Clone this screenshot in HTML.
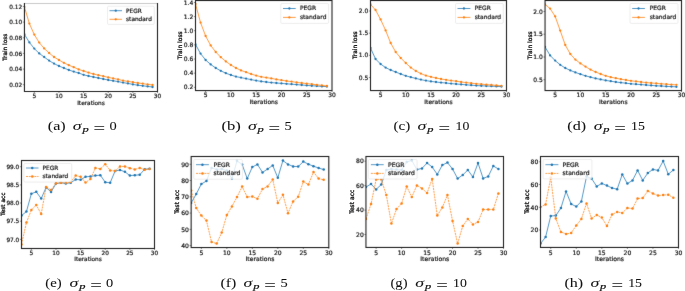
<!DOCTYPE html>
<html lang="en">
<head>
<meta charset="utf-8">
<title>Train loss and test accuracy: PEGR vs standard</title>
<style>
html,body{margin:0;padding:0;background:#fff;}
body{width:685px;height:291px;overflow:hidden;}
svg{display:block;}
.pl text{stroke:#111;stroke-width:0.2px;}
.yl text{stroke-width:0.3px;}
.cap text{stroke:#111;stroke-width:0.05px;}
</style>
</head>
<body>
<svg width="685" height="291" viewBox="0 0 685 291">
<filter id="soft" x="0" y="0" width="685" height="291" filterUnits="userSpaceOnUse" color-interpolation-filters="sRGB"><feConvolveMatrix order="3" kernelMatrix="0.01 0.055 0.01 0.055 0.74 0.055 0.01 0.055 0.01" divisor="1" edgeMode="duplicate" preserveAlpha="true"/></filter>
<g filter="url(#soft)">
<rect width="685" height="291" fill="#fff"/>
<g font-family="'DejaVu Sans', 'Liberation Sans', sans-serif" font-size="5.8" fill="#111" class="pl">
<g font-size="5.8">
<clipPath id="c0"><rect x="24.45" y="3.5" width="133.05" height="88"/></clipPath>
<g clip-path="url(#c0)">
<polyline points="24.45,34.4 29.38,42.4 34.31,48.6 39.23,53.4 44.16,57 49.09,60.6 54.02,63.6 58.94,66 63.87,68 68.8,70 73.73,71.6 78.66,73 83.58,74.8 88.51,76 93.44,77 98.37,78 103.29,79 108.22,80 113.15,80.8 118.08,81.6 123.01,82.6 127.93,83.4 132.86,84.4 137.79,85.2 142.72,85.8 147.64,86.4 152.57,87" fill="none" stroke="#1f77b4" stroke-width="0.78" stroke-linejoin="round"/>
<circle cx="24.45" cy="34.4" r="1.15" fill="#1f77b4"/>
<circle cx="29.38" cy="42.4" r="1.15" fill="#1f77b4"/>
<circle cx="34.31" cy="48.6" r="1.15" fill="#1f77b4"/>
<circle cx="39.23" cy="53.4" r="1.15" fill="#1f77b4"/>
<circle cx="44.16" cy="57" r="1.15" fill="#1f77b4"/>
<circle cx="49.09" cy="60.6" r="1.15" fill="#1f77b4"/>
<circle cx="54.02" cy="63.6" r="1.15" fill="#1f77b4"/>
<circle cx="58.94" cy="66" r="1.15" fill="#1f77b4"/>
<circle cx="63.87" cy="68" r="1.15" fill="#1f77b4"/>
<circle cx="68.8" cy="70" r="1.15" fill="#1f77b4"/>
<circle cx="73.73" cy="71.6" r="1.15" fill="#1f77b4"/>
<circle cx="78.66" cy="73" r="1.15" fill="#1f77b4"/>
<circle cx="83.58" cy="74.8" r="1.15" fill="#1f77b4"/>
<circle cx="88.51" cy="76" r="1.15" fill="#1f77b4"/>
<circle cx="93.44" cy="77" r="1.15" fill="#1f77b4"/>
<circle cx="98.37" cy="78" r="1.15" fill="#1f77b4"/>
<circle cx="103.29" cy="79" r="1.15" fill="#1f77b4"/>
<circle cx="108.22" cy="80" r="1.15" fill="#1f77b4"/>
<circle cx="113.15" cy="80.8" r="1.15" fill="#1f77b4"/>
<circle cx="118.08" cy="81.6" r="1.15" fill="#1f77b4"/>
<circle cx="123.01" cy="82.6" r="1.15" fill="#1f77b4"/>
<circle cx="127.93" cy="83.4" r="1.15" fill="#1f77b4"/>
<circle cx="132.86" cy="84.4" r="1.15" fill="#1f77b4"/>
<circle cx="137.79" cy="85.2" r="1.15" fill="#1f77b4"/>
<circle cx="142.72" cy="85.8" r="1.15" fill="#1f77b4"/>
<circle cx="147.64" cy="86.4" r="1.15" fill="#1f77b4"/>
<circle cx="152.57" cy="87" r="1.15" fill="#1f77b4"/>
<polyline points="24.45,7 29.38,23.6 34.31,34.6 39.23,42.6 44.16,48.4 49.09,53 54.02,57 58.94,60 63.87,62.8 68.8,65.2 73.73,67.2 78.66,69.4 83.58,71 88.51,72.6 93.44,74 98.37,75.2 103.29,76.2 108.22,77.4 113.15,78.4 118.08,79.4 123.01,80.6 127.93,81.4 132.86,82.2 137.79,83 142.72,83.6 147.64,84.4 152.57,85" fill="none" stroke="#ff7f0e" stroke-width="0.78" stroke-linejoin="round"/>
<circle cx="24.45" cy="7" r="1.15" fill="#ff7f0e"/>
<circle cx="29.38" cy="23.6" r="1.15" fill="#ff7f0e"/>
<circle cx="34.31" cy="34.6" r="1.15" fill="#ff7f0e"/>
<circle cx="39.23" cy="42.6" r="1.15" fill="#ff7f0e"/>
<circle cx="44.16" cy="48.4" r="1.15" fill="#ff7f0e"/>
<circle cx="49.09" cy="53" r="1.15" fill="#ff7f0e"/>
<circle cx="54.02" cy="57" r="1.15" fill="#ff7f0e"/>
<circle cx="58.94" cy="60" r="1.15" fill="#ff7f0e"/>
<circle cx="63.87" cy="62.8" r="1.15" fill="#ff7f0e"/>
<circle cx="68.8" cy="65.2" r="1.15" fill="#ff7f0e"/>
<circle cx="73.73" cy="67.2" r="1.15" fill="#ff7f0e"/>
<circle cx="78.66" cy="69.4" r="1.15" fill="#ff7f0e"/>
<circle cx="83.58" cy="71" r="1.15" fill="#ff7f0e"/>
<circle cx="88.51" cy="72.6" r="1.15" fill="#ff7f0e"/>
<circle cx="93.44" cy="74" r="1.15" fill="#ff7f0e"/>
<circle cx="98.37" cy="75.2" r="1.15" fill="#ff7f0e"/>
<circle cx="103.29" cy="76.2" r="1.15" fill="#ff7f0e"/>
<circle cx="108.22" cy="77.4" r="1.15" fill="#ff7f0e"/>
<circle cx="113.15" cy="78.4" r="1.15" fill="#ff7f0e"/>
<circle cx="118.08" cy="79.4" r="1.15" fill="#ff7f0e"/>
<circle cx="123.01" cy="80.6" r="1.15" fill="#ff7f0e"/>
<circle cx="127.93" cy="81.4" r="1.15" fill="#ff7f0e"/>
<circle cx="132.86" cy="82.2" r="1.15" fill="#ff7f0e"/>
<circle cx="137.79" cy="83" r="1.15" fill="#ff7f0e"/>
<circle cx="142.72" cy="83.6" r="1.15" fill="#ff7f0e"/>
<circle cx="147.64" cy="84.4" r="1.15" fill="#ff7f0e"/>
<circle cx="152.57" cy="85" r="1.15" fill="#ff7f0e"/>
</g>
<rect x="107.5" y="6.2" width="46.8" height="18.2" rx="1.2" fill="#fff" fill-opacity="0.8" stroke="#ccc" stroke-opacity="0.7" stroke-width="0.5"/>
<line x1="109.5" y1="10.7" x2="122" y2="10.7" stroke="#1f77b4" stroke-width="0.78"/>
<circle cx="115.75" cy="10.7" r="1.15" fill="#1f77b4"/>
<text x="126.1" y="12.5">PEGR</text>
<line x1="109.5" y1="19.3" x2="122" y2="19.3" stroke="#ff7f0e" stroke-width="0.78"/>
<circle cx="115.75" cy="19.3" r="1.15" fill="#ff7f0e"/>
<text x="126.1" y="21.1">standard</text>
<line x1="24.45" y1="3.5" x2="157.5" y2="3.5" stroke="#c4c4c4" stroke-width="0.9"/>
<polyline points="24.45,3.1 24.45,91.5 157.5,91.5 157.5,3.1" fill="none" stroke="#222" stroke-width="1.1"/>
<line x1="34.31" y1="91.5" x2="34.31" y2="92.9" stroke="#222" stroke-width="0.6"/>
<text x="34.31" y="97.8" text-anchor="middle">5</text>
<line x1="58.94" y1="91.5" x2="58.94" y2="92.9" stroke="#222" stroke-width="0.6"/>
<text x="58.94" y="97.8" text-anchor="middle">10</text>
<line x1="83.58" y1="91.5" x2="83.58" y2="92.9" stroke="#222" stroke-width="0.6"/>
<text x="83.58" y="97.8" text-anchor="middle">15</text>
<line x1="108.22" y1="91.5" x2="108.22" y2="92.9" stroke="#222" stroke-width="0.6"/>
<text x="108.22" y="97.8" text-anchor="middle">20</text>
<line x1="132.86" y1="91.5" x2="132.86" y2="92.9" stroke="#222" stroke-width="0.6"/>
<text x="132.86" y="97.8" text-anchor="middle">25</text>
<line x1="157.5" y1="91.5" x2="157.5" y2="92.9" stroke="#222" stroke-width="0.6"/>
<text x="157.5" y="97.8" text-anchor="middle">30</text>
<line x1="22.85" y1="6.5" x2="24.45" y2="6.5" stroke="#222" stroke-width="0.5"/>
<text x="22.25" y="8.62" text-anchor="end">0.12</text>
<line x1="22.85" y1="22.1" x2="24.45" y2="22.1" stroke="#222" stroke-width="0.5"/>
<text x="22.25" y="24.22" text-anchor="end">0.10</text>
<line x1="22.85" y1="37.8" x2="24.45" y2="37.8" stroke="#222" stroke-width="0.5"/>
<text x="22.25" y="39.92" text-anchor="end">0.08</text>
<line x1="22.85" y1="53.4" x2="24.45" y2="53.4" stroke="#222" stroke-width="0.5"/>
<text x="22.25" y="55.52" text-anchor="end">0.06</text>
<line x1="22.85" y1="69.1" x2="24.45" y2="69.1" stroke="#222" stroke-width="0.5"/>
<text x="22.25" y="71.22" text-anchor="end">0.04</text>
<line x1="22.85" y1="84.7" x2="24.45" y2="84.7" stroke="#222" stroke-width="0.5"/>
<text x="22.25" y="86.82" text-anchor="end">0.02</text>
<text x="90.97" y="104.5" text-anchor="middle">Iterations</text>
</g>
<g font-size="5.99">
<clipPath id="c1"><rect x="195.5" y="0.5" width="136.5" height="90.05"/></clipPath>
<g clip-path="url(#c1)">
<polyline points="195.5,44.4 200.56,53.6 205.61,60 210.67,64.4 215.72,68 220.78,70.8 225.83,73.2 230.89,75 235.94,76.6 241,77.6 246.06,78.6 251.11,79.6 256.17,80.6 261.22,81.4 266.28,82 271.33,82.6 276.39,83 281.44,83.4 286.5,83.8 291.56,84.2 296.61,84.6 301.67,85 306.72,85.4 311.78,85.8 316.83,86 321.89,86.4 326.94,86.6" fill="none" stroke="#1f77b4" stroke-width="0.78" stroke-linejoin="round"/>
<circle cx="195.5" cy="44.4" r="1.15" fill="#1f77b4"/>
<circle cx="200.56" cy="53.6" r="1.15" fill="#1f77b4"/>
<circle cx="205.61" cy="60" r="1.15" fill="#1f77b4"/>
<circle cx="210.67" cy="64.4" r="1.15" fill="#1f77b4"/>
<circle cx="215.72" cy="68" r="1.15" fill="#1f77b4"/>
<circle cx="220.78" cy="70.8" r="1.15" fill="#1f77b4"/>
<circle cx="225.83" cy="73.2" r="1.15" fill="#1f77b4"/>
<circle cx="230.89" cy="75" r="1.15" fill="#1f77b4"/>
<circle cx="235.94" cy="76.6" r="1.15" fill="#1f77b4"/>
<circle cx="241" cy="77.6" r="1.15" fill="#1f77b4"/>
<circle cx="246.06" cy="78.6" r="1.15" fill="#1f77b4"/>
<circle cx="251.11" cy="79.6" r="1.15" fill="#1f77b4"/>
<circle cx="256.17" cy="80.6" r="1.15" fill="#1f77b4"/>
<circle cx="261.22" cy="81.4" r="1.15" fill="#1f77b4"/>
<circle cx="266.28" cy="82" r="1.15" fill="#1f77b4"/>
<circle cx="271.33" cy="82.6" r="1.15" fill="#1f77b4"/>
<circle cx="276.39" cy="83" r="1.15" fill="#1f77b4"/>
<circle cx="281.44" cy="83.4" r="1.15" fill="#1f77b4"/>
<circle cx="286.5" cy="83.8" r="1.15" fill="#1f77b4"/>
<circle cx="291.56" cy="84.2" r="1.15" fill="#1f77b4"/>
<circle cx="296.61" cy="84.6" r="1.15" fill="#1f77b4"/>
<circle cx="301.67" cy="85" r="1.15" fill="#1f77b4"/>
<circle cx="306.72" cy="85.4" r="1.15" fill="#1f77b4"/>
<circle cx="311.78" cy="85.8" r="1.15" fill="#1f77b4"/>
<circle cx="316.83" cy="86" r="1.15" fill="#1f77b4"/>
<circle cx="321.89" cy="86.4" r="1.15" fill="#1f77b4"/>
<circle cx="326.94" cy="86.6" r="1.15" fill="#1f77b4"/>
<polyline points="195.5,4 200.56,22.6 205.61,36 210.67,45.4 215.72,52 220.78,57.2 225.83,61.4 230.89,65 235.94,68 241,70.4 246.06,72.2 251.11,74 256.17,75.6 261.22,76.8 266.28,77.6 271.33,78.4 276.39,79.4 281.44,80.2 286.5,81 291.56,81.6 296.61,82.4 301.67,83 306.72,83.6 311.78,84.2 316.83,84.8 321.89,85.4 326.94,86" fill="none" stroke="#ff7f0e" stroke-width="0.78" stroke-linejoin="round"/>
<circle cx="195.5" cy="4" r="1.15" fill="#ff7f0e"/>
<circle cx="200.56" cy="22.6" r="1.15" fill="#ff7f0e"/>
<circle cx="205.61" cy="36" r="1.15" fill="#ff7f0e"/>
<circle cx="210.67" cy="45.4" r="1.15" fill="#ff7f0e"/>
<circle cx="215.72" cy="52" r="1.15" fill="#ff7f0e"/>
<circle cx="220.78" cy="57.2" r="1.15" fill="#ff7f0e"/>
<circle cx="225.83" cy="61.4" r="1.15" fill="#ff7f0e"/>
<circle cx="230.89" cy="65" r="1.15" fill="#ff7f0e"/>
<circle cx="235.94" cy="68" r="1.15" fill="#ff7f0e"/>
<circle cx="241" cy="70.4" r="1.15" fill="#ff7f0e"/>
<circle cx="246.06" cy="72.2" r="1.15" fill="#ff7f0e"/>
<circle cx="251.11" cy="74" r="1.15" fill="#ff7f0e"/>
<circle cx="256.17" cy="75.6" r="1.15" fill="#ff7f0e"/>
<circle cx="261.22" cy="76.8" r="1.15" fill="#ff7f0e"/>
<circle cx="266.28" cy="77.6" r="1.15" fill="#ff7f0e"/>
<circle cx="271.33" cy="78.4" r="1.15" fill="#ff7f0e"/>
<circle cx="276.39" cy="79.4" r="1.15" fill="#ff7f0e"/>
<circle cx="281.44" cy="80.2" r="1.15" fill="#ff7f0e"/>
<circle cx="286.5" cy="81" r="1.15" fill="#ff7f0e"/>
<circle cx="291.56" cy="81.6" r="1.15" fill="#ff7f0e"/>
<circle cx="296.61" cy="82.4" r="1.15" fill="#ff7f0e"/>
<circle cx="301.67" cy="83" r="1.15" fill="#ff7f0e"/>
<circle cx="306.72" cy="83.6" r="1.15" fill="#ff7f0e"/>
<circle cx="311.78" cy="84.2" r="1.15" fill="#ff7f0e"/>
<circle cx="316.83" cy="84.8" r="1.15" fill="#ff7f0e"/>
<circle cx="321.89" cy="85.4" r="1.15" fill="#ff7f0e"/>
<circle cx="326.94" cy="86" r="1.15" fill="#ff7f0e"/>
</g>
<rect x="280.8" y="3.5" width="47.8" height="19.9" rx="1.2" fill="#fff" fill-opacity="0.8" stroke="#ccc" stroke-opacity="0.7" stroke-width="0.5"/>
<line x1="283" y1="8.5" x2="295.7" y2="8.5" stroke="#1f77b4" stroke-width="0.78"/>
<circle cx="289.35" cy="8.5" r="1.15" fill="#1f77b4"/>
<text x="299.9" y="10.3">PEGR</text>
<line x1="283" y1="17.4" x2="295.7" y2="17.4" stroke="#ff7f0e" stroke-width="0.78"/>
<circle cx="289.35" cy="17.4" r="1.15" fill="#ff7f0e"/>
<text x="299.9" y="19.2">standard</text>
<rect x="195.5" y="0.5" width="136.5" height="90.05" fill="none" stroke="#222" stroke-width="1.1"/>
<line x1="205.61" y1="90.55" x2="205.61" y2="91.95" stroke="#222" stroke-width="0.6"/>
<text x="205.61" y="97.3" text-anchor="middle">5</text>
<line x1="230.89" y1="90.55" x2="230.89" y2="91.95" stroke="#222" stroke-width="0.6"/>
<text x="230.89" y="97.3" text-anchor="middle">10</text>
<line x1="256.17" y1="90.55" x2="256.17" y2="91.95" stroke="#222" stroke-width="0.6"/>
<text x="256.17" y="97.3" text-anchor="middle">15</text>
<line x1="281.44" y1="90.55" x2="281.44" y2="91.95" stroke="#222" stroke-width="0.6"/>
<text x="281.44" y="97.3" text-anchor="middle">20</text>
<line x1="306.72" y1="90.55" x2="306.72" y2="91.95" stroke="#222" stroke-width="0.6"/>
<text x="306.72" y="97.3" text-anchor="middle">25</text>
<line x1="332" y1="90.55" x2="332" y2="91.95" stroke="#222" stroke-width="0.6"/>
<text x="332" y="97.3" text-anchor="middle">30</text>
<line x1="193.9" y1="2.5" x2="195.5" y2="2.5" stroke="#222" stroke-width="0.5"/>
<text x="193.3" y="4.69" text-anchor="end">1.4</text>
<line x1="193.9" y1="16.6" x2="195.5" y2="16.6" stroke="#222" stroke-width="0.5"/>
<text x="193.3" y="18.79" text-anchor="end">1.2</text>
<line x1="193.9" y1="30.7" x2="195.5" y2="30.7" stroke="#222" stroke-width="0.5"/>
<text x="193.3" y="32.89" text-anchor="end">1.0</text>
<line x1="193.9" y1="44.85" x2="195.5" y2="44.85" stroke="#222" stroke-width="0.5"/>
<text x="193.3" y="47.04" text-anchor="end">0.8</text>
<line x1="193.9" y1="59" x2="195.5" y2="59" stroke="#222" stroke-width="0.5"/>
<text x="193.3" y="61.19" text-anchor="end">0.6</text>
<line x1="193.9" y1="73.15" x2="195.5" y2="73.15" stroke="#222" stroke-width="0.5"/>
<text x="193.3" y="75.34" text-anchor="end">0.4</text>
<line x1="193.9" y1="87.3" x2="195.5" y2="87.3" stroke="#222" stroke-width="0.5"/>
<text x="193.3" y="89.49" text-anchor="end">0.2</text>
<text x="263.75" y="104" text-anchor="middle">Iterations</text>
</g>
<g font-size="5.96">
<clipPath id="c2"><rect x="370.5" y="0.5" width="136" height="90.05"/></clipPath>
<g clip-path="url(#c2)">
<polyline points="370.5,48 375.54,59 380.57,64 385.61,67.6 390.65,70 395.69,72 400.72,74 405.76,75.8 410.8,77.2 415.83,78.4 420.87,79.6 425.91,80.6 430.94,81.4 435.98,82 441.02,82.6 446.06,83 451.09,83.6 456.13,84 461.17,84.4 466.2,84.8 471.24,85.2 476.28,85.6 481.31,85.8 486.35,86 491.39,86.2 496.43,86.4 501.46,86.6" fill="none" stroke="#1f77b4" stroke-width="0.78" stroke-linejoin="round"/>
<circle cx="370.5" cy="48" r="1.15" fill="#1f77b4"/>
<circle cx="375.54" cy="59" r="1.15" fill="#1f77b4"/>
<circle cx="380.57" cy="64" r="1.15" fill="#1f77b4"/>
<circle cx="385.61" cy="67.6" r="1.15" fill="#1f77b4"/>
<circle cx="390.65" cy="70" r="1.15" fill="#1f77b4"/>
<circle cx="395.69" cy="72" r="1.15" fill="#1f77b4"/>
<circle cx="400.72" cy="74" r="1.15" fill="#1f77b4"/>
<circle cx="405.76" cy="75.8" r="1.15" fill="#1f77b4"/>
<circle cx="410.8" cy="77.2" r="1.15" fill="#1f77b4"/>
<circle cx="415.83" cy="78.4" r="1.15" fill="#1f77b4"/>
<circle cx="420.87" cy="79.6" r="1.15" fill="#1f77b4"/>
<circle cx="425.91" cy="80.6" r="1.15" fill="#1f77b4"/>
<circle cx="430.94" cy="81.4" r="1.15" fill="#1f77b4"/>
<circle cx="435.98" cy="82" r="1.15" fill="#1f77b4"/>
<circle cx="441.02" cy="82.6" r="1.15" fill="#1f77b4"/>
<circle cx="446.06" cy="83" r="1.15" fill="#1f77b4"/>
<circle cx="451.09" cy="83.6" r="1.15" fill="#1f77b4"/>
<circle cx="456.13" cy="84" r="1.15" fill="#1f77b4"/>
<circle cx="461.17" cy="84.4" r="1.15" fill="#1f77b4"/>
<circle cx="466.2" cy="84.8" r="1.15" fill="#1f77b4"/>
<circle cx="471.24" cy="85.2" r="1.15" fill="#1f77b4"/>
<circle cx="476.28" cy="85.6" r="1.15" fill="#1f77b4"/>
<circle cx="481.31" cy="85.8" r="1.15" fill="#1f77b4"/>
<circle cx="486.35" cy="86" r="1.15" fill="#1f77b4"/>
<circle cx="491.39" cy="86.2" r="1.15" fill="#1f77b4"/>
<circle cx="496.43" cy="86.4" r="1.15" fill="#1f77b4"/>
<circle cx="501.46" cy="86.6" r="1.15" fill="#1f77b4"/>
<polyline points="370.5,4.4 375.54,10 380.57,19.4 385.61,30.4 390.65,43 395.69,52 400.72,58 405.76,63 410.8,67.6 415.83,71 420.87,73.6 425.91,75.6 430.94,76.8 435.98,78 441.02,79 446.06,79.8 451.09,80.6 456.13,81.2 461.17,82 466.2,82.6 471.24,83.2 476.28,83.8 481.31,84.2 486.35,84.6 491.39,85 496.43,85.4 501.46,85.8" fill="none" stroke="#ff7f0e" stroke-width="0.78" stroke-linejoin="round"/>
<circle cx="370.5" cy="4.4" r="1.15" fill="#ff7f0e"/>
<circle cx="375.54" cy="10" r="1.15" fill="#ff7f0e"/>
<circle cx="380.57" cy="19.4" r="1.15" fill="#ff7f0e"/>
<circle cx="385.61" cy="30.4" r="1.15" fill="#ff7f0e"/>
<circle cx="390.65" cy="43" r="1.15" fill="#ff7f0e"/>
<circle cx="395.69" cy="52" r="1.15" fill="#ff7f0e"/>
<circle cx="400.72" cy="58" r="1.15" fill="#ff7f0e"/>
<circle cx="405.76" cy="63" r="1.15" fill="#ff7f0e"/>
<circle cx="410.8" cy="67.6" r="1.15" fill="#ff7f0e"/>
<circle cx="415.83" cy="71" r="1.15" fill="#ff7f0e"/>
<circle cx="420.87" cy="73.6" r="1.15" fill="#ff7f0e"/>
<circle cx="425.91" cy="75.6" r="1.15" fill="#ff7f0e"/>
<circle cx="430.94" cy="76.8" r="1.15" fill="#ff7f0e"/>
<circle cx="435.98" cy="78" r="1.15" fill="#ff7f0e"/>
<circle cx="441.02" cy="79" r="1.15" fill="#ff7f0e"/>
<circle cx="446.06" cy="79.8" r="1.15" fill="#ff7f0e"/>
<circle cx="451.09" cy="80.6" r="1.15" fill="#ff7f0e"/>
<circle cx="456.13" cy="81.2" r="1.15" fill="#ff7f0e"/>
<circle cx="461.17" cy="82" r="1.15" fill="#ff7f0e"/>
<circle cx="466.2" cy="82.6" r="1.15" fill="#ff7f0e"/>
<circle cx="471.24" cy="83.2" r="1.15" fill="#ff7f0e"/>
<circle cx="476.28" cy="83.8" r="1.15" fill="#ff7f0e"/>
<circle cx="481.31" cy="84.2" r="1.15" fill="#ff7f0e"/>
<circle cx="486.35" cy="84.6" r="1.15" fill="#ff7f0e"/>
<circle cx="491.39" cy="85" r="1.15" fill="#ff7f0e"/>
<circle cx="496.43" cy="85.4" r="1.15" fill="#ff7f0e"/>
<circle cx="501.46" cy="85.8" r="1.15" fill="#ff7f0e"/>
</g>
<rect x="455.5" y="3.5" width="47.8" height="19.9" rx="1.2" fill="#fff" fill-opacity="0.8" stroke="#ccc" stroke-opacity="0.7" stroke-width="0.5"/>
<line x1="457.5" y1="8.5" x2="470.4" y2="8.5" stroke="#1f77b4" stroke-width="0.78"/>
<circle cx="463.95" cy="8.5" r="1.15" fill="#1f77b4"/>
<text x="474.7" y="10.3">PEGR</text>
<line x1="457.5" y1="17.4" x2="470.4" y2="17.4" stroke="#ff7f0e" stroke-width="0.78"/>
<circle cx="463.95" cy="17.4" r="1.15" fill="#ff7f0e"/>
<text x="474.7" y="19.2">standard</text>
<rect x="370.5" y="0.5" width="136" height="90.05" fill="none" stroke="#222" stroke-width="1.1"/>
<line x1="380.57" y1="90.55" x2="380.57" y2="91.95" stroke="#222" stroke-width="0.6"/>
<text x="380.57" y="97.3" text-anchor="middle">5</text>
<line x1="405.76" y1="90.55" x2="405.76" y2="91.95" stroke="#222" stroke-width="0.6"/>
<text x="405.76" y="97.3" text-anchor="middle">10</text>
<line x1="430.94" y1="90.55" x2="430.94" y2="91.95" stroke="#222" stroke-width="0.6"/>
<text x="430.94" y="97.3" text-anchor="middle">15</text>
<line x1="456.13" y1="90.55" x2="456.13" y2="91.95" stroke="#222" stroke-width="0.6"/>
<text x="456.13" y="97.3" text-anchor="middle">20</text>
<line x1="481.31" y1="90.55" x2="481.31" y2="91.95" stroke="#222" stroke-width="0.6"/>
<text x="481.31" y="97.3" text-anchor="middle">25</text>
<line x1="506.5" y1="90.55" x2="506.5" y2="91.95" stroke="#222" stroke-width="0.6"/>
<text x="506.5" y="97.3" text-anchor="middle">30</text>
<line x1="368.9" y1="11" x2="370.5" y2="11" stroke="#222" stroke-width="0.5"/>
<text x="368.3" y="13.18" text-anchor="end">2.0</text>
<line x1="368.9" y1="33.2" x2="370.5" y2="33.2" stroke="#222" stroke-width="0.5"/>
<text x="368.3" y="35.38" text-anchor="end">1.5</text>
<line x1="368.9" y1="55.3" x2="370.5" y2="55.3" stroke="#222" stroke-width="0.5"/>
<text x="368.3" y="57.48" text-anchor="end">1.0</text>
<line x1="368.9" y1="77.5" x2="370.5" y2="77.5" stroke="#222" stroke-width="0.5"/>
<text x="368.3" y="79.68" text-anchor="end">0.5</text>
<text x="438.5" y="104" text-anchor="middle">Iterations</text>
</g>
<g font-size="5.99">
<clipPath id="c3"><rect x="545.05" y="0.5" width="136.45" height="90.05"/></clipPath>
<g clip-path="url(#c3)">
<polyline points="545.05,47 550.1,55.4 555.16,60.6 560.21,64.8 565.26,68 570.32,70.4 575.37,72.4 580.43,74.2 585.48,75.8 590.53,77.2 595.59,78.4 600.64,79.4 605.69,80.4 610.75,81.2 615.8,82 620.86,82.6 625.91,83.2 630.96,83.8 636.02,84.2 641.07,84.6 646.12,85 651.18,85.4 656.23,85.8 661.29,86 666.34,86.4 671.39,86.6 676.45,86.8" fill="none" stroke="#1f77b4" stroke-width="0.78" stroke-linejoin="round"/>
<circle cx="545.05" cy="47" r="1.15" fill="#1f77b4"/>
<circle cx="550.1" cy="55.4" r="1.15" fill="#1f77b4"/>
<circle cx="555.16" cy="60.6" r="1.15" fill="#1f77b4"/>
<circle cx="560.21" cy="64.8" r="1.15" fill="#1f77b4"/>
<circle cx="565.26" cy="68" r="1.15" fill="#1f77b4"/>
<circle cx="570.32" cy="70.4" r="1.15" fill="#1f77b4"/>
<circle cx="575.37" cy="72.4" r="1.15" fill="#1f77b4"/>
<circle cx="580.43" cy="74.2" r="1.15" fill="#1f77b4"/>
<circle cx="585.48" cy="75.8" r="1.15" fill="#1f77b4"/>
<circle cx="590.53" cy="77.2" r="1.15" fill="#1f77b4"/>
<circle cx="595.59" cy="78.4" r="1.15" fill="#1f77b4"/>
<circle cx="600.64" cy="79.4" r="1.15" fill="#1f77b4"/>
<circle cx="605.69" cy="80.4" r="1.15" fill="#1f77b4"/>
<circle cx="610.75" cy="81.2" r="1.15" fill="#1f77b4"/>
<circle cx="615.8" cy="82" r="1.15" fill="#1f77b4"/>
<circle cx="620.86" cy="82.6" r="1.15" fill="#1f77b4"/>
<circle cx="625.91" cy="83.2" r="1.15" fill="#1f77b4"/>
<circle cx="630.96" cy="83.8" r="1.15" fill="#1f77b4"/>
<circle cx="636.02" cy="84.2" r="1.15" fill="#1f77b4"/>
<circle cx="641.07" cy="84.6" r="1.15" fill="#1f77b4"/>
<circle cx="646.12" cy="85" r="1.15" fill="#1f77b4"/>
<circle cx="651.18" cy="85.4" r="1.15" fill="#1f77b4"/>
<circle cx="656.23" cy="85.8" r="1.15" fill="#1f77b4"/>
<circle cx="661.29" cy="86" r="1.15" fill="#1f77b4"/>
<circle cx="666.34" cy="86.4" r="1.15" fill="#1f77b4"/>
<circle cx="671.39" cy="86.6" r="1.15" fill="#1f77b4"/>
<circle cx="676.45" cy="86.8" r="1.15" fill="#1f77b4"/>
<polyline points="545.05,4.4 550.1,8.6 555.16,16.4 560.21,30.6 565.26,45 570.32,54 575.37,59.6 580.43,63.4 585.48,66.6 590.53,69.6 595.59,72 600.64,74 605.69,75.8 610.75,77.2 615.8,78.2 620.86,79.2 625.91,80 630.96,80.8 636.02,81.4 641.07,82 646.12,82.6 651.18,83 656.23,83.4 661.29,83.8 666.34,84.2 671.39,84.6 676.45,84.8" fill="none" stroke="#ff7f0e" stroke-width="0.78" stroke-linejoin="round"/>
<circle cx="545.05" cy="4.4" r="1.15" fill="#ff7f0e"/>
<circle cx="550.1" cy="8.6" r="1.15" fill="#ff7f0e"/>
<circle cx="555.16" cy="16.4" r="1.15" fill="#ff7f0e"/>
<circle cx="560.21" cy="30.6" r="1.15" fill="#ff7f0e"/>
<circle cx="565.26" cy="45" r="1.15" fill="#ff7f0e"/>
<circle cx="570.32" cy="54" r="1.15" fill="#ff7f0e"/>
<circle cx="575.37" cy="59.6" r="1.15" fill="#ff7f0e"/>
<circle cx="580.43" cy="63.4" r="1.15" fill="#ff7f0e"/>
<circle cx="585.48" cy="66.6" r="1.15" fill="#ff7f0e"/>
<circle cx="590.53" cy="69.6" r="1.15" fill="#ff7f0e"/>
<circle cx="595.59" cy="72" r="1.15" fill="#ff7f0e"/>
<circle cx="600.64" cy="74" r="1.15" fill="#ff7f0e"/>
<circle cx="605.69" cy="75.8" r="1.15" fill="#ff7f0e"/>
<circle cx="610.75" cy="77.2" r="1.15" fill="#ff7f0e"/>
<circle cx="615.8" cy="78.2" r="1.15" fill="#ff7f0e"/>
<circle cx="620.86" cy="79.2" r="1.15" fill="#ff7f0e"/>
<circle cx="625.91" cy="80" r="1.15" fill="#ff7f0e"/>
<circle cx="630.96" cy="80.8" r="1.15" fill="#ff7f0e"/>
<circle cx="636.02" cy="81.4" r="1.15" fill="#ff7f0e"/>
<circle cx="641.07" cy="82" r="1.15" fill="#ff7f0e"/>
<circle cx="646.12" cy="82.6" r="1.15" fill="#ff7f0e"/>
<circle cx="651.18" cy="83" r="1.15" fill="#ff7f0e"/>
<circle cx="656.23" cy="83.4" r="1.15" fill="#ff7f0e"/>
<circle cx="661.29" cy="83.8" r="1.15" fill="#ff7f0e"/>
<circle cx="666.34" cy="84.2" r="1.15" fill="#ff7f0e"/>
<circle cx="671.39" cy="84.6" r="1.15" fill="#ff7f0e"/>
<circle cx="676.45" cy="84.8" r="1.15" fill="#ff7f0e"/>
</g>
<rect x="630" y="3.5" width="48" height="19.9" rx="1.2" fill="#fff" fill-opacity="0.8" stroke="#ccc" stroke-opacity="0.7" stroke-width="0.5"/>
<line x1="632.2" y1="8.5" x2="644.9" y2="8.5" stroke="#1f77b4" stroke-width="0.78"/>
<circle cx="638.55" cy="8.5" r="1.15" fill="#1f77b4"/>
<text x="649.7" y="10.3">PEGR</text>
<line x1="632.2" y1="17.4" x2="644.9" y2="17.4" stroke="#ff7f0e" stroke-width="0.78"/>
<circle cx="638.55" cy="17.4" r="1.15" fill="#ff7f0e"/>
<text x="649.7" y="19.2">standard</text>
<rect x="545.05" y="0.5" width="136.45" height="90.05" fill="none" stroke="#222" stroke-width="1.1"/>
<line x1="555.16" y1="90.55" x2="555.16" y2="91.95" stroke="#222" stroke-width="0.6"/>
<text x="555.16" y="97.3" text-anchor="middle">5</text>
<line x1="580.43" y1="90.55" x2="580.43" y2="91.95" stroke="#222" stroke-width="0.6"/>
<text x="580.43" y="97.3" text-anchor="middle">10</text>
<line x1="605.69" y1="90.55" x2="605.69" y2="91.95" stroke="#222" stroke-width="0.6"/>
<text x="605.69" y="97.3" text-anchor="middle">15</text>
<line x1="630.96" y1="90.55" x2="630.96" y2="91.95" stroke="#222" stroke-width="0.6"/>
<text x="630.96" y="97.3" text-anchor="middle">20</text>
<line x1="656.23" y1="90.55" x2="656.23" y2="91.95" stroke="#222" stroke-width="0.6"/>
<text x="656.23" y="97.3" text-anchor="middle">25</text>
<line x1="681.5" y1="90.55" x2="681.5" y2="91.95" stroke="#222" stroke-width="0.6"/>
<text x="681.5" y="97.3" text-anchor="middle">30</text>
<line x1="543.45" y1="11.5" x2="545.05" y2="11.5" stroke="#222" stroke-width="0.5"/>
<text x="542.85" y="13.69" text-anchor="end">2.0</text>
<line x1="543.45" y1="34.2" x2="545.05" y2="34.2" stroke="#222" stroke-width="0.5"/>
<text x="542.85" y="36.39" text-anchor="end">1.5</text>
<line x1="543.45" y1="57" x2="545.05" y2="57" stroke="#222" stroke-width="0.5"/>
<text x="542.85" y="59.19" text-anchor="end">1.0</text>
<line x1="543.45" y1="79.7" x2="545.05" y2="79.7" stroke="#222" stroke-width="0.5"/>
<text x="542.85" y="81.89" text-anchor="end">0.5</text>
<text x="613.27" y="104" text-anchor="middle">Iterations</text>
</g>
<g font-size="5.79">
<clipPath id="c4"><rect x="21.5" y="160.5" width="133" height="88"/></clipPath>
<g clip-path="url(#c4)">
<polyline points="21.5,215.6 26.43,211.6 31.35,193.8 36.28,191.8 41.2,198.6 46.13,187.4 51.06,192 55.98,183.6 60.91,182.8 65.83,183.4 70.76,182.8 75.69,179.4 80.61,179.8 85.54,176.8 90.46,176.4 95.39,175.6 100.31,175.2 105.24,182.2 110.17,182.8 115.09,171 120.02,170 124.94,171.8 129.87,175.6 134.8,175.2 139.72,174.8 144.65,169.2 149.57,168.8" fill="none" stroke="#1f77b4" stroke-width="0.75" stroke-linejoin="round"/>
<circle cx="21.5" cy="215.6" r="1.25" fill="#1f77b4"/>
<circle cx="26.43" cy="211.6" r="1.25" fill="#1f77b4"/>
<circle cx="31.35" cy="193.8" r="1.25" fill="#1f77b4"/>
<circle cx="36.28" cy="191.8" r="1.25" fill="#1f77b4"/>
<circle cx="41.2" cy="198.6" r="1.25" fill="#1f77b4"/>
<circle cx="46.13" cy="187.4" r="1.25" fill="#1f77b4"/>
<circle cx="51.06" cy="192" r="1.25" fill="#1f77b4"/>
<circle cx="55.98" cy="183.6" r="1.25" fill="#1f77b4"/>
<circle cx="60.91" cy="182.8" r="1.25" fill="#1f77b4"/>
<circle cx="65.83" cy="183.4" r="1.25" fill="#1f77b4"/>
<circle cx="70.76" cy="182.8" r="1.25" fill="#1f77b4"/>
<circle cx="75.69" cy="179.4" r="1.25" fill="#1f77b4"/>
<circle cx="80.61" cy="179.8" r="1.25" fill="#1f77b4"/>
<circle cx="85.54" cy="176.8" r="1.25" fill="#1f77b4"/>
<circle cx="90.46" cy="176.4" r="1.25" fill="#1f77b4"/>
<circle cx="95.39" cy="175.6" r="1.25" fill="#1f77b4"/>
<circle cx="100.31" cy="175.2" r="1.25" fill="#1f77b4"/>
<circle cx="105.24" cy="182.2" r="1.25" fill="#1f77b4"/>
<circle cx="110.17" cy="182.8" r="1.25" fill="#1f77b4"/>
<circle cx="115.09" cy="171" r="1.25" fill="#1f77b4"/>
<circle cx="120.02" cy="170" r="1.25" fill="#1f77b4"/>
<circle cx="124.94" cy="171.8" r="1.25" fill="#1f77b4"/>
<circle cx="129.87" cy="175.6" r="1.25" fill="#1f77b4"/>
<circle cx="134.8" cy="175.2" r="1.25" fill="#1f77b4"/>
<circle cx="139.72" cy="174.8" r="1.25" fill="#1f77b4"/>
<circle cx="144.65" cy="169.2" r="1.25" fill="#1f77b4"/>
<circle cx="149.57" cy="168.8" r="1.25" fill="#1f77b4"/>
<polyline points="21.5,244.4 26.43,222.6 31.35,210 36.28,205 41.2,214 46.13,187 51.06,190 55.98,183.2 60.91,182.8 65.83,182.8 70.76,182 75.69,175.6 80.61,176.8 85.54,182.6 90.46,179 95.39,168 100.31,169 105.24,164.2 110.17,170.4 115.09,171 120.02,166.4 124.94,166.4 129.87,168.2 134.8,169.4 139.72,168 144.65,169.8 149.57,169" fill="none" stroke="#ff7f0e" stroke-width="0.75" stroke-linejoin="round" stroke-dasharray="2.0 0.8"/>
<circle cx="21.5" cy="244.4" r="1.25" fill="#ff7f0e"/>
<circle cx="26.43" cy="222.6" r="1.25" fill="#ff7f0e"/>
<circle cx="31.35" cy="210" r="1.25" fill="#ff7f0e"/>
<circle cx="36.28" cy="205" r="1.25" fill="#ff7f0e"/>
<circle cx="41.2" cy="214" r="1.25" fill="#ff7f0e"/>
<circle cx="46.13" cy="187" r="1.25" fill="#ff7f0e"/>
<circle cx="51.06" cy="190" r="1.25" fill="#ff7f0e"/>
<circle cx="55.98" cy="183.2" r="1.25" fill="#ff7f0e"/>
<circle cx="60.91" cy="182.8" r="1.25" fill="#ff7f0e"/>
<circle cx="65.83" cy="182.8" r="1.25" fill="#ff7f0e"/>
<circle cx="70.76" cy="182" r="1.25" fill="#ff7f0e"/>
<circle cx="75.69" cy="175.6" r="1.25" fill="#ff7f0e"/>
<circle cx="80.61" cy="176.8" r="1.25" fill="#ff7f0e"/>
<circle cx="85.54" cy="182.6" r="1.25" fill="#ff7f0e"/>
<circle cx="90.46" cy="179" r="1.25" fill="#ff7f0e"/>
<circle cx="95.39" cy="168" r="1.25" fill="#ff7f0e"/>
<circle cx="100.31" cy="169" r="1.25" fill="#ff7f0e"/>
<circle cx="105.24" cy="164.2" r="1.25" fill="#ff7f0e"/>
<circle cx="110.17" cy="170.4" r="1.25" fill="#ff7f0e"/>
<circle cx="115.09" cy="171" r="1.25" fill="#ff7f0e"/>
<circle cx="120.02" cy="166.4" r="1.25" fill="#ff7f0e"/>
<circle cx="124.94" cy="166.4" r="1.25" fill="#ff7f0e"/>
<circle cx="129.87" cy="168.2" r="1.25" fill="#ff7f0e"/>
<circle cx="134.8" cy="169.4" r="1.25" fill="#ff7f0e"/>
<circle cx="139.72" cy="168" r="1.25" fill="#ff7f0e"/>
<circle cx="144.65" cy="169.8" r="1.25" fill="#ff7f0e"/>
<circle cx="149.57" cy="169" r="1.25" fill="#ff7f0e"/>
</g>
<rect x="23.9" y="163.5" width="47.8" height="18.6" rx="1.2" fill="#fff" fill-opacity="0.8" stroke="#ccc" stroke-opacity="0.7" stroke-width="0.5"/>
<line x1="26" y1="168" x2="38.5" y2="168" stroke="#1f77b4" stroke-width="0.75"/>
<circle cx="32.25" cy="168" r="1.25" fill="#1f77b4"/>
<text x="42.6" y="169.8">PEGR</text>
<line x1="26" y1="176.5" x2="38.5" y2="176.5" stroke="#ff7f0e" stroke-width="0.75" stroke-dasharray="2.0 0.8"/>
<circle cx="32.25" cy="176.5" r="1.25" fill="#ff7f0e"/>
<text x="42.6" y="178.3">standard</text>
<rect x="21.5" y="160.5" width="133" height="88" fill="none" stroke="#222" stroke-width="1.1"/>
<line x1="31.35" y1="248.5" x2="31.35" y2="249.9" stroke="#222" stroke-width="0.6"/>
<text x="31.35" y="254.6" text-anchor="middle">5</text>
<line x1="55.98" y1="248.5" x2="55.98" y2="249.9" stroke="#222" stroke-width="0.6"/>
<text x="55.98" y="254.6" text-anchor="middle">10</text>
<line x1="80.61" y1="248.5" x2="80.61" y2="249.9" stroke="#222" stroke-width="0.6"/>
<text x="80.61" y="254.6" text-anchor="middle">15</text>
<line x1="105.24" y1="248.5" x2="105.24" y2="249.9" stroke="#222" stroke-width="0.6"/>
<text x="105.24" y="254.6" text-anchor="middle">20</text>
<line x1="129.87" y1="248.5" x2="129.87" y2="249.9" stroke="#222" stroke-width="0.6"/>
<text x="129.87" y="254.6" text-anchor="middle">25</text>
<line x1="154.5" y1="248.5" x2="154.5" y2="249.9" stroke="#222" stroke-width="0.6"/>
<text x="154.5" y="254.6" text-anchor="middle">30</text>
<line x1="19.9" y1="166.7" x2="21.5" y2="166.7" stroke="#222" stroke-width="0.5"/>
<text x="19.3" y="168.81" text-anchor="end">99.0</text>
<line x1="19.9" y1="184.9" x2="21.5" y2="184.9" stroke="#222" stroke-width="0.5"/>
<text x="19.3" y="187.01" text-anchor="end">98.5</text>
<line x1="19.9" y1="203" x2="21.5" y2="203" stroke="#222" stroke-width="0.5"/>
<text x="19.3" y="205.11" text-anchor="end">98.0</text>
<line x1="19.9" y1="221.2" x2="21.5" y2="221.2" stroke="#222" stroke-width="0.5"/>
<text x="19.3" y="223.31" text-anchor="end">97.5</text>
<line x1="19.9" y1="239.4" x2="21.5" y2="239.4" stroke="#222" stroke-width="0.5"/>
<text x="19.3" y="241.51" text-anchor="end">97.0</text>
<text x="88" y="261.1" text-anchor="middle">Iterations</text>
</g>
<g font-size="6.06">
<clipPath id="c5"><rect x="191.15" y="156.5" width="137.65" height="91.05"/></clipPath>
<g clip-path="url(#c5)">
<polyline points="191.15,203 196.25,194 201.35,184 206.44,181 211.54,168 216.64,169.4 221.74,169 226.84,170.6 231.94,178.6 237.03,161 242.13,164.4 247.23,178.6 252.33,167 257.43,164.4 262.52,172.4 267.62,169 272.72,165.4 277.82,177.8 282.92,160.6 288.01,164.4 293.11,166.4 298.21,166.6 303.31,161.6 308.41,164.2 313.51,166.2 318.6,168 323.7,169.6" fill="none" stroke="#1f77b4" stroke-width="0.75" stroke-linejoin="round"/>
<circle cx="191.15" cy="203" r="1.25" fill="#1f77b4"/>
<circle cx="196.25" cy="194" r="1.25" fill="#1f77b4"/>
<circle cx="201.35" cy="184" r="1.25" fill="#1f77b4"/>
<circle cx="206.44" cy="181" r="1.25" fill="#1f77b4"/>
<circle cx="211.54" cy="168" r="1.25" fill="#1f77b4"/>
<circle cx="216.64" cy="169.4" r="1.25" fill="#1f77b4"/>
<circle cx="221.74" cy="169" r="1.25" fill="#1f77b4"/>
<circle cx="226.84" cy="170.6" r="1.25" fill="#1f77b4"/>
<circle cx="231.94" cy="178.6" r="1.25" fill="#1f77b4"/>
<circle cx="237.03" cy="161" r="1.25" fill="#1f77b4"/>
<circle cx="242.13" cy="164.4" r="1.25" fill="#1f77b4"/>
<circle cx="247.23" cy="178.6" r="1.25" fill="#1f77b4"/>
<circle cx="252.33" cy="167" r="1.25" fill="#1f77b4"/>
<circle cx="257.43" cy="164.4" r="1.25" fill="#1f77b4"/>
<circle cx="262.52" cy="172.4" r="1.25" fill="#1f77b4"/>
<circle cx="267.62" cy="169" r="1.25" fill="#1f77b4"/>
<circle cx="272.72" cy="165.4" r="1.25" fill="#1f77b4"/>
<circle cx="277.82" cy="177.8" r="1.25" fill="#1f77b4"/>
<circle cx="282.92" cy="160.6" r="1.25" fill="#1f77b4"/>
<circle cx="288.01" cy="164.4" r="1.25" fill="#1f77b4"/>
<circle cx="293.11" cy="166.4" r="1.25" fill="#1f77b4"/>
<circle cx="298.21" cy="166.6" r="1.25" fill="#1f77b4"/>
<circle cx="303.31" cy="161.6" r="1.25" fill="#1f77b4"/>
<circle cx="308.41" cy="164.2" r="1.25" fill="#1f77b4"/>
<circle cx="313.51" cy="166.2" r="1.25" fill="#1f77b4"/>
<circle cx="318.6" cy="168" r="1.25" fill="#1f77b4"/>
<circle cx="323.7" cy="169.6" r="1.25" fill="#1f77b4"/>
<polyline points="191.15,190.6 196.25,208 201.35,215.6 206.44,220.6 211.54,242 216.64,243.6 221.74,232.6 226.84,215 231.94,206.4 237.03,197 242.13,186.6 247.23,197 252.33,196.6 257.43,198.8 262.52,189 267.62,186.4 272.72,179.4 277.82,203 282.92,194.8 288.01,213.2 293.11,201.4 298.21,196.8 303.31,181.6 308.41,184.6 313.51,172 318.6,178.6 323.7,179.8" fill="none" stroke="#ff7f0e" stroke-width="0.75" stroke-linejoin="round" stroke-dasharray="2.0 0.8"/>
<circle cx="191.15" cy="190.6" r="1.25" fill="#ff7f0e"/>
<circle cx="196.25" cy="208" r="1.25" fill="#ff7f0e"/>
<circle cx="201.35" cy="215.6" r="1.25" fill="#ff7f0e"/>
<circle cx="206.44" cy="220.6" r="1.25" fill="#ff7f0e"/>
<circle cx="211.54" cy="242" r="1.25" fill="#ff7f0e"/>
<circle cx="216.64" cy="243.6" r="1.25" fill="#ff7f0e"/>
<circle cx="221.74" cy="232.6" r="1.25" fill="#ff7f0e"/>
<circle cx="226.84" cy="215" r="1.25" fill="#ff7f0e"/>
<circle cx="231.94" cy="206.4" r="1.25" fill="#ff7f0e"/>
<circle cx="237.03" cy="197" r="1.25" fill="#ff7f0e"/>
<circle cx="242.13" cy="186.6" r="1.25" fill="#ff7f0e"/>
<circle cx="247.23" cy="197" r="1.25" fill="#ff7f0e"/>
<circle cx="252.33" cy="196.6" r="1.25" fill="#ff7f0e"/>
<circle cx="257.43" cy="198.8" r="1.25" fill="#ff7f0e"/>
<circle cx="262.52" cy="189" r="1.25" fill="#ff7f0e"/>
<circle cx="267.62" cy="186.4" r="1.25" fill="#ff7f0e"/>
<circle cx="272.72" cy="179.4" r="1.25" fill="#ff7f0e"/>
<circle cx="277.82" cy="203" r="1.25" fill="#ff7f0e"/>
<circle cx="282.92" cy="194.8" r="1.25" fill="#ff7f0e"/>
<circle cx="288.01" cy="213.2" r="1.25" fill="#ff7f0e"/>
<circle cx="293.11" cy="201.4" r="1.25" fill="#ff7f0e"/>
<circle cx="298.21" cy="196.8" r="1.25" fill="#ff7f0e"/>
<circle cx="303.31" cy="181.6" r="1.25" fill="#ff7f0e"/>
<circle cx="308.41" cy="184.6" r="1.25" fill="#ff7f0e"/>
<circle cx="313.51" cy="172" r="1.25" fill="#ff7f0e"/>
<circle cx="318.6" cy="178.6" r="1.25" fill="#ff7f0e"/>
<circle cx="323.7" cy="179.8" r="1.25" fill="#ff7f0e"/>
</g>
<rect x="193.7" y="159.5" width="48.7" height="19.7" rx="1.2" fill="#fff" fill-opacity="0.8" stroke="#ccc" stroke-opacity="0.7" stroke-width="0.5"/>
<line x1="196" y1="164.7" x2="208.9" y2="164.7" stroke="#1f77b4" stroke-width="0.75"/>
<circle cx="202.45" cy="164.7" r="1.25" fill="#1f77b4"/>
<text x="213.5" y="166.5">PEGR</text>
<line x1="196" y1="173.4" x2="208.9" y2="173.4" stroke="#ff7f0e" stroke-width="0.75" stroke-dasharray="2.0 0.8"/>
<circle cx="202.45" cy="173.4" r="1.25" fill="#ff7f0e"/>
<text x="213.5" y="175.2">standard</text>
<rect x="191.15" y="156.5" width="137.65" height="91.05" fill="none" stroke="#222" stroke-width="1.1"/>
<line x1="201.35" y1="247.55" x2="201.35" y2="248.95" stroke="#222" stroke-width="0.6"/>
<text x="201.35" y="254.5" text-anchor="middle">5</text>
<line x1="226.84" y1="247.55" x2="226.84" y2="248.95" stroke="#222" stroke-width="0.6"/>
<text x="226.84" y="254.5" text-anchor="middle">10</text>
<line x1="252.33" y1="247.55" x2="252.33" y2="248.95" stroke="#222" stroke-width="0.6"/>
<text x="252.33" y="254.5" text-anchor="middle">15</text>
<line x1="277.82" y1="247.55" x2="277.82" y2="248.95" stroke="#222" stroke-width="0.6"/>
<text x="277.82" y="254.5" text-anchor="middle">20</text>
<line x1="303.31" y1="247.55" x2="303.31" y2="248.95" stroke="#222" stroke-width="0.6"/>
<text x="303.31" y="254.5" text-anchor="middle">25</text>
<line x1="328.8" y1="247.55" x2="328.8" y2="248.95" stroke="#222" stroke-width="0.6"/>
<text x="328.8" y="254.5" text-anchor="middle">30</text>
<line x1="189.55" y1="164.3" x2="191.15" y2="164.3" stroke="#222" stroke-width="0.5"/>
<text x="188.95" y="166.51" text-anchor="end">90</text>
<line x1="189.55" y1="180.5" x2="191.15" y2="180.5" stroke="#222" stroke-width="0.5"/>
<text x="188.95" y="182.71" text-anchor="end">80</text>
<line x1="189.55" y1="196.8" x2="191.15" y2="196.8" stroke="#222" stroke-width="0.5"/>
<text x="188.95" y="199.01" text-anchor="end">70</text>
<line x1="189.55" y1="213.1" x2="191.15" y2="213.1" stroke="#222" stroke-width="0.5"/>
<text x="188.95" y="215.31" text-anchor="end">60</text>
<line x1="189.55" y1="229.4" x2="191.15" y2="229.4" stroke="#222" stroke-width="0.5"/>
<text x="188.95" y="231.61" text-anchor="end">50</text>
<line x1="189.55" y1="245.6" x2="191.15" y2="245.6" stroke="#222" stroke-width="0.5"/>
<text x="188.95" y="247.81" text-anchor="end">40</text>
<text x="259.98" y="261.2" text-anchor="middle">Iterations</text>
</g>
<g font-size="6.05">
<clipPath id="c6"><rect x="365.95" y="156.5" width="137.55" height="90.95"/></clipPath>
<g clip-path="url(#c6)">
<polyline points="365.95,187 371.04,184 376.14,189.4 381.23,184.6 386.33,170 391.42,169 396.52,169.6 401.61,170 406.71,162 411.8,160.4 416.89,169.6 421.99,168.4 427.08,163 432.18,167 437.27,174.4 442.37,165 447.46,162.6 452.56,169 457.65,178.6 462.74,175 467.84,170 472.93,177 478.03,163 483.12,178.4 488.22,176.4 493.31,166 498.41,169" fill="none" stroke="#1f77b4" stroke-width="0.75" stroke-linejoin="round"/>
<circle cx="365.95" cy="187" r="1.25" fill="#1f77b4"/>
<circle cx="371.04" cy="184" r="1.25" fill="#1f77b4"/>
<circle cx="376.14" cy="189.4" r="1.25" fill="#1f77b4"/>
<circle cx="381.23" cy="184.6" r="1.25" fill="#1f77b4"/>
<circle cx="386.33" cy="170" r="1.25" fill="#1f77b4"/>
<circle cx="391.42" cy="169" r="1.25" fill="#1f77b4"/>
<circle cx="396.52" cy="169.6" r="1.25" fill="#1f77b4"/>
<circle cx="401.61" cy="170" r="1.25" fill="#1f77b4"/>
<circle cx="406.71" cy="162" r="1.25" fill="#1f77b4"/>
<circle cx="411.8" cy="160.4" r="1.25" fill="#1f77b4"/>
<circle cx="416.89" cy="169.6" r="1.25" fill="#1f77b4"/>
<circle cx="421.99" cy="168.4" r="1.25" fill="#1f77b4"/>
<circle cx="427.08" cy="163" r="1.25" fill="#1f77b4"/>
<circle cx="432.18" cy="167" r="1.25" fill="#1f77b4"/>
<circle cx="437.27" cy="174.4" r="1.25" fill="#1f77b4"/>
<circle cx="442.37" cy="165" r="1.25" fill="#1f77b4"/>
<circle cx="447.46" cy="162.6" r="1.25" fill="#1f77b4"/>
<circle cx="452.56" cy="169" r="1.25" fill="#1f77b4"/>
<circle cx="457.65" cy="178.6" r="1.25" fill="#1f77b4"/>
<circle cx="462.74" cy="175" r="1.25" fill="#1f77b4"/>
<circle cx="467.84" cy="170" r="1.25" fill="#1f77b4"/>
<circle cx="472.93" cy="177" r="1.25" fill="#1f77b4"/>
<circle cx="478.03" cy="163" r="1.25" fill="#1f77b4"/>
<circle cx="483.12" cy="178.4" r="1.25" fill="#1f77b4"/>
<circle cx="488.22" cy="176.4" r="1.25" fill="#1f77b4"/>
<circle cx="493.31" cy="166" r="1.25" fill="#1f77b4"/>
<circle cx="498.41" cy="169" r="1.25" fill="#1f77b4"/>
<polyline points="365.95,219 371.04,204 376.14,179.4 381.23,179.4 386.33,195 391.42,223.6 396.52,209 401.61,203.6 406.71,186.6 411.8,197 416.89,185.4 421.99,188.4 427.08,193 432.18,179 437.27,215.6 442.37,207.4 447.46,195 452.56,221 457.65,243.6 462.74,226 467.84,219 472.93,224.4 478.03,222 483.12,209.6 488.22,209.4 493.31,209.6 498.41,193.4" fill="none" stroke="#ff7f0e" stroke-width="0.75" stroke-linejoin="round" stroke-dasharray="2.0 0.8"/>
<circle cx="365.95" cy="219" r="1.25" fill="#ff7f0e"/>
<circle cx="371.04" cy="204" r="1.25" fill="#ff7f0e"/>
<circle cx="376.14" cy="179.4" r="1.25" fill="#ff7f0e"/>
<circle cx="381.23" cy="179.4" r="1.25" fill="#ff7f0e"/>
<circle cx="386.33" cy="195" r="1.25" fill="#ff7f0e"/>
<circle cx="391.42" cy="223.6" r="1.25" fill="#ff7f0e"/>
<circle cx="396.52" cy="209" r="1.25" fill="#ff7f0e"/>
<circle cx="401.61" cy="203.6" r="1.25" fill="#ff7f0e"/>
<circle cx="406.71" cy="186.6" r="1.25" fill="#ff7f0e"/>
<circle cx="411.8" cy="197" r="1.25" fill="#ff7f0e"/>
<circle cx="416.89" cy="185.4" r="1.25" fill="#ff7f0e"/>
<circle cx="421.99" cy="188.4" r="1.25" fill="#ff7f0e"/>
<circle cx="427.08" cy="193" r="1.25" fill="#ff7f0e"/>
<circle cx="432.18" cy="179" r="1.25" fill="#ff7f0e"/>
<circle cx="437.27" cy="215.6" r="1.25" fill="#ff7f0e"/>
<circle cx="442.37" cy="207.4" r="1.25" fill="#ff7f0e"/>
<circle cx="447.46" cy="195" r="1.25" fill="#ff7f0e"/>
<circle cx="452.56" cy="221" r="1.25" fill="#ff7f0e"/>
<circle cx="457.65" cy="243.6" r="1.25" fill="#ff7f0e"/>
<circle cx="462.74" cy="226" r="1.25" fill="#ff7f0e"/>
<circle cx="467.84" cy="219" r="1.25" fill="#ff7f0e"/>
<circle cx="472.93" cy="224.4" r="1.25" fill="#ff7f0e"/>
<circle cx="478.03" cy="222" r="1.25" fill="#ff7f0e"/>
<circle cx="483.12" cy="209.6" r="1.25" fill="#ff7f0e"/>
<circle cx="488.22" cy="209.4" r="1.25" fill="#ff7f0e"/>
<circle cx="493.31" cy="209.6" r="1.25" fill="#ff7f0e"/>
<circle cx="498.41" cy="193.4" r="1.25" fill="#ff7f0e"/>
</g>
<rect x="368.4" y="159.5" width="48.7" height="19.5" rx="1.2" fill="#fff" fill-opacity="0.8" stroke="#ccc" stroke-opacity="0.7" stroke-width="0.5"/>
<line x1="370.9" y1="164.7" x2="383.7" y2="164.7" stroke="#1f77b4" stroke-width="0.75"/>
<circle cx="377.3" cy="164.7" r="1.25" fill="#1f77b4"/>
<text x="388" y="166.5">PEGR</text>
<line x1="370.9" y1="173.4" x2="383.7" y2="173.4" stroke="#ff7f0e" stroke-width="0.75" stroke-dasharray="2.0 0.8"/>
<circle cx="377.3" cy="173.4" r="1.25" fill="#ff7f0e"/>
<text x="388" y="175.2">standard</text>
<rect x="365.95" y="156.5" width="137.55" height="90.95" fill="none" stroke="#222" stroke-width="1.1"/>
<line x1="376.14" y1="247.45" x2="376.14" y2="248.85" stroke="#222" stroke-width="0.6"/>
<text x="376.14" y="254.5" text-anchor="middle">5</text>
<line x1="401.61" y1="247.45" x2="401.61" y2="248.85" stroke="#222" stroke-width="0.6"/>
<text x="401.61" y="254.5" text-anchor="middle">10</text>
<line x1="427.08" y1="247.45" x2="427.08" y2="248.85" stroke="#222" stroke-width="0.6"/>
<text x="427.08" y="254.5" text-anchor="middle">15</text>
<line x1="452.56" y1="247.45" x2="452.56" y2="248.85" stroke="#222" stroke-width="0.6"/>
<text x="452.56" y="254.5" text-anchor="middle">20</text>
<line x1="478.03" y1="247.45" x2="478.03" y2="248.85" stroke="#222" stroke-width="0.6"/>
<text x="478.03" y="254.5" text-anchor="middle">25</text>
<line x1="503.5" y1="247.45" x2="503.5" y2="248.85" stroke="#222" stroke-width="0.6"/>
<text x="503.5" y="254.5" text-anchor="middle">30</text>
<line x1="364.35" y1="161.2" x2="365.95" y2="161.2" stroke="#222" stroke-width="0.5"/>
<text x="363.75" y="163.41" text-anchor="end">80</text>
<line x1="364.35" y1="185.6" x2="365.95" y2="185.6" stroke="#222" stroke-width="0.5"/>
<text x="363.75" y="187.81" text-anchor="end">60</text>
<line x1="364.35" y1="210.1" x2="365.95" y2="210.1" stroke="#222" stroke-width="0.5"/>
<text x="363.75" y="212.31" text-anchor="end">40</text>
<line x1="364.35" y1="234.5" x2="365.95" y2="234.5" stroke="#222" stroke-width="0.5"/>
<text x="363.75" y="236.71" text-anchor="end">20</text>
<text x="434.73" y="261.2" text-anchor="middle">Iterations</text>
</g>
<g font-size="6.08">
<clipPath id="c7"><rect x="540.5" y="156.5" width="138" height="90.95"/></clipPath>
<g clip-path="url(#c7)">
<polyline points="540.5,243.6 545.61,237 550.72,216 555.83,215.6 560.94,208 566.06,191.4 571.17,204 576.28,206.6 581.39,201.4 586.5,176.6 591.61,178.6 596.72,186.4 601.83,183.4 606.94,185.6 612.06,188 617.17,189.2 622.28,174.4 627.39,183.6 632.5,180.4 637.61,170.4 642.72,180.4 647.83,173 652.94,169.4 658.06,170.4 663.17,161 668.28,174.2 673.39,170" fill="none" stroke="#1f77b4" stroke-width="0.75" stroke-linejoin="round"/>
<circle cx="540.5" cy="243.6" r="1.25" fill="#1f77b4"/>
<circle cx="545.61" cy="237" r="1.25" fill="#1f77b4"/>
<circle cx="550.72" cy="216" r="1.25" fill="#1f77b4"/>
<circle cx="555.83" cy="215.6" r="1.25" fill="#1f77b4"/>
<circle cx="560.94" cy="208" r="1.25" fill="#1f77b4"/>
<circle cx="566.06" cy="191.4" r="1.25" fill="#1f77b4"/>
<circle cx="571.17" cy="204" r="1.25" fill="#1f77b4"/>
<circle cx="576.28" cy="206.6" r="1.25" fill="#1f77b4"/>
<circle cx="581.39" cy="201.4" r="1.25" fill="#1f77b4"/>
<circle cx="586.5" cy="176.6" r="1.25" fill="#1f77b4"/>
<circle cx="591.61" cy="178.6" r="1.25" fill="#1f77b4"/>
<circle cx="596.72" cy="186.4" r="1.25" fill="#1f77b4"/>
<circle cx="601.83" cy="183.4" r="1.25" fill="#1f77b4"/>
<circle cx="606.94" cy="185.6" r="1.25" fill="#1f77b4"/>
<circle cx="612.06" cy="188" r="1.25" fill="#1f77b4"/>
<circle cx="617.17" cy="189.2" r="1.25" fill="#1f77b4"/>
<circle cx="622.28" cy="174.4" r="1.25" fill="#1f77b4"/>
<circle cx="627.39" cy="183.6" r="1.25" fill="#1f77b4"/>
<circle cx="632.5" cy="180.4" r="1.25" fill="#1f77b4"/>
<circle cx="637.61" cy="170.4" r="1.25" fill="#1f77b4"/>
<circle cx="642.72" cy="180.4" r="1.25" fill="#1f77b4"/>
<circle cx="647.83" cy="173" r="1.25" fill="#1f77b4"/>
<circle cx="652.94" cy="169.4" r="1.25" fill="#1f77b4"/>
<circle cx="658.06" cy="170.4" r="1.25" fill="#1f77b4"/>
<circle cx="663.17" cy="161" r="1.25" fill="#1f77b4"/>
<circle cx="668.28" cy="174.2" r="1.25" fill="#1f77b4"/>
<circle cx="673.39" cy="170" r="1.25" fill="#1f77b4"/>
<polyline points="540.5,207 545.61,204.4 550.72,177.6 555.83,218.6 560.94,232 566.06,234 571.17,233 576.28,225.4 581.39,219 586.5,203.4 591.61,218.4 596.72,215 601.83,217.6 606.94,226 612.06,214.4 617.17,212 622.28,213 627.39,208 632.5,208.6 637.61,198.6 642.72,198 647.83,191 652.94,193.6 658.06,195.6 663.17,195 668.28,194.8 673.39,197.8" fill="none" stroke="#ff7f0e" stroke-width="0.75" stroke-linejoin="round" stroke-dasharray="2.0 0.8"/>
<circle cx="540.5" cy="207" r="1.25" fill="#ff7f0e"/>
<circle cx="545.61" cy="204.4" r="1.25" fill="#ff7f0e"/>
<circle cx="550.72" cy="177.6" r="1.25" fill="#ff7f0e"/>
<circle cx="555.83" cy="218.6" r="1.25" fill="#ff7f0e"/>
<circle cx="560.94" cy="232" r="1.25" fill="#ff7f0e"/>
<circle cx="566.06" cy="234" r="1.25" fill="#ff7f0e"/>
<circle cx="571.17" cy="233" r="1.25" fill="#ff7f0e"/>
<circle cx="576.28" cy="225.4" r="1.25" fill="#ff7f0e"/>
<circle cx="581.39" cy="219" r="1.25" fill="#ff7f0e"/>
<circle cx="586.5" cy="203.4" r="1.25" fill="#ff7f0e"/>
<circle cx="591.61" cy="218.4" r="1.25" fill="#ff7f0e"/>
<circle cx="596.72" cy="215" r="1.25" fill="#ff7f0e"/>
<circle cx="601.83" cy="217.6" r="1.25" fill="#ff7f0e"/>
<circle cx="606.94" cy="226" r="1.25" fill="#ff7f0e"/>
<circle cx="612.06" cy="214.4" r="1.25" fill="#ff7f0e"/>
<circle cx="617.17" cy="212" r="1.25" fill="#ff7f0e"/>
<circle cx="622.28" cy="213" r="1.25" fill="#ff7f0e"/>
<circle cx="627.39" cy="208" r="1.25" fill="#ff7f0e"/>
<circle cx="632.5" cy="208.6" r="1.25" fill="#ff7f0e"/>
<circle cx="637.61" cy="198.6" r="1.25" fill="#ff7f0e"/>
<circle cx="642.72" cy="198" r="1.25" fill="#ff7f0e"/>
<circle cx="647.83" cy="191" r="1.25" fill="#ff7f0e"/>
<circle cx="652.94" cy="193.6" r="1.25" fill="#ff7f0e"/>
<circle cx="658.06" cy="195.6" r="1.25" fill="#ff7f0e"/>
<circle cx="663.17" cy="195" r="1.25" fill="#ff7f0e"/>
<circle cx="668.28" cy="194.8" r="1.25" fill="#ff7f0e"/>
<circle cx="673.39" cy="197.8" r="1.25" fill="#ff7f0e"/>
</g>
<rect x="543.1" y="159.5" width="48.8" height="19.4" rx="1.2" fill="#fff" fill-opacity="0.8" stroke="#ccc" stroke-opacity="0.7" stroke-width="0.5"/>
<line x1="545.4" y1="164.7" x2="558.4" y2="164.7" stroke="#1f77b4" stroke-width="0.75"/>
<circle cx="551.9" cy="164.7" r="1.25" fill="#1f77b4"/>
<text x="562.6" y="166.5">PEGR</text>
<line x1="545.4" y1="173.4" x2="558.4" y2="173.4" stroke="#ff7f0e" stroke-width="0.75" stroke-dasharray="2.0 0.8"/>
<circle cx="551.9" cy="173.4" r="1.25" fill="#ff7f0e"/>
<text x="562.6" y="175.2">standard</text>
<rect x="540.5" y="156.5" width="138" height="90.95" fill="none" stroke="#222" stroke-width="1.1"/>
<line x1="550.72" y1="247.45" x2="550.72" y2="248.85" stroke="#222" stroke-width="0.6"/>
<text x="550.72" y="254.5" text-anchor="middle">5</text>
<line x1="576.28" y1="247.45" x2="576.28" y2="248.85" stroke="#222" stroke-width="0.6"/>
<text x="576.28" y="254.5" text-anchor="middle">10</text>
<line x1="601.83" y1="247.45" x2="601.83" y2="248.85" stroke="#222" stroke-width="0.6"/>
<text x="601.83" y="254.5" text-anchor="middle">15</text>
<line x1="627.39" y1="247.45" x2="627.39" y2="248.85" stroke="#222" stroke-width="0.6"/>
<text x="627.39" y="254.5" text-anchor="middle">20</text>
<line x1="652.94" y1="247.45" x2="652.94" y2="248.85" stroke="#222" stroke-width="0.6"/>
<text x="652.94" y="254.5" text-anchor="middle">25</text>
<line x1="678.5" y1="247.45" x2="678.5" y2="248.85" stroke="#222" stroke-width="0.6"/>
<text x="678.5" y="254.5" text-anchor="middle">30</text>
<line x1="538.9" y1="161.8" x2="540.5" y2="161.8" stroke="#222" stroke-width="0.5"/>
<text x="538.3" y="164.02" text-anchor="end">80</text>
<line x1="538.9" y1="184.5" x2="540.5" y2="184.5" stroke="#222" stroke-width="0.5"/>
<text x="538.3" y="186.72" text-anchor="end">60</text>
<line x1="538.9" y1="207.3" x2="540.5" y2="207.3" stroke="#222" stroke-width="0.5"/>
<text x="538.3" y="209.52" text-anchor="end">40</text>
<line x1="538.9" y1="230" x2="540.5" y2="230" stroke="#222" stroke-width="0.5"/>
<text x="538.3" y="232.22" text-anchor="end">20</text>
<text x="609.5" y="261.2" text-anchor="middle">Iterations</text>
</g>
</g>
</g>
<g font-family="'DejaVu Sans', 'Liberation Sans', sans-serif" fill="#111" class="pl yl">
<text transform="translate(7.3 47.2) rotate(-90)" text-anchor="middle" font-size="5.8">Train loss</text>
<text transform="translate(182 45.23) rotate(-90)" text-anchor="middle" font-size="5.99">Train loss</text>
<text transform="translate(357 45.23) rotate(-90)" text-anchor="middle" font-size="5.96">Train loss</text>
<text transform="translate(532 45.23) rotate(-90)" text-anchor="middle" font-size="5.99">Train loss</text>
<text transform="translate(4.6 204.2) rotate(-90)" text-anchor="middle" font-size="5.79">Test acc</text>
<text transform="translate(179.3 201.72) rotate(-90)" text-anchor="middle" font-size="6.06">Test acc</text>
<text transform="translate(353.8 201.67) rotate(-90)" text-anchor="middle" font-size="6.05">Test acc</text>
<text transform="translate(528.6 201.67) rotate(-90)" text-anchor="middle" font-size="6.08">Test acc</text>
</g>
<g font-family="'Liberation Serif', 'DejaVu Serif', serif" font-size="12.6" fill="#111" class="cap">
<text x="47.8" y="130.4" textLength="17.9" lengthAdjust="spacingAndGlyphs">(a)</text>
<text x="72.8" y="130.4" font-style="italic" font-size="13.4" textLength="8.8" lengthAdjust="spacingAndGlyphs">σ</text>
<text x="82.4" y="132.1" font-style="italic" font-size="9" textLength="6.2" lengthAdjust="spacingAndGlyphs" style="stroke-width:0.22px">p</text>
<text x="93.6" y="132.7" font-size="14.5" textLength="11.6" lengthAdjust="spacingAndGlyphs">=</text>
<text x="109.5" y="130.4" textLength="7.2" lengthAdjust="spacingAndGlyphs">0</text>
<text x="221.5" y="130.4" textLength="19.4" lengthAdjust="spacingAndGlyphs">(b)</text>
<text x="247.9" y="130.4" font-style="italic" font-size="13.4" textLength="8.8" lengthAdjust="spacingAndGlyphs">σ</text>
<text x="257.5" y="132.1" font-style="italic" font-size="9" textLength="6.2" lengthAdjust="spacingAndGlyphs" style="stroke-width:0.22px">p</text>
<text x="268.6" y="132.7" font-size="14.5" textLength="11.6" lengthAdjust="spacingAndGlyphs">=</text>
<text x="284.4" y="130.4" textLength="7.2" lengthAdjust="spacingAndGlyphs">5</text>
<text x="393.5" y="130.4" textLength="16.8" lengthAdjust="spacingAndGlyphs">(c)</text>
<text x="417.6" y="130.4" font-style="italic" font-size="13.4" textLength="8.8" lengthAdjust="spacingAndGlyphs">σ</text>
<text x="427.2" y="132.1" font-style="italic" font-size="9" textLength="6.2" lengthAdjust="spacingAndGlyphs" style="stroke-width:0.22px">p</text>
<text x="438.4" y="132.7" font-size="14.5" textLength="11.6" lengthAdjust="spacingAndGlyphs">=</text>
<text x="455.6" y="130.4" textLength="13.8" lengthAdjust="spacingAndGlyphs">10</text>
<text x="567.3" y="130.4" textLength="18.7" lengthAdjust="spacingAndGlyphs">(d)</text>
<text x="593.7" y="130.4" font-style="italic" font-size="13.4" textLength="8.8" lengthAdjust="spacingAndGlyphs">σ</text>
<text x="603.3" y="132.1" font-style="italic" font-size="9" textLength="6.2" lengthAdjust="spacingAndGlyphs" style="stroke-width:0.22px">p</text>
<text x="614.3" y="132.7" font-size="14.5" textLength="11.6" lengthAdjust="spacingAndGlyphs">=</text>
<text x="631" y="130.4" textLength="13.8" lengthAdjust="spacingAndGlyphs">15</text>
<text x="45.3" y="287.4" textLength="16.4" lengthAdjust="spacingAndGlyphs">(e)</text>
<text x="69.6" y="287.4" font-style="italic" font-size="13.4" textLength="8.8" lengthAdjust="spacingAndGlyphs">σ</text>
<text x="79.2" y="289.1" font-style="italic" font-size="9" textLength="6.2" lengthAdjust="spacingAndGlyphs" style="stroke-width:0.22px">p</text>
<text x="90.2" y="289.7" font-size="14.5" textLength="11.6" lengthAdjust="spacingAndGlyphs">=</text>
<text x="106.1" y="287.4" textLength="7.2" lengthAdjust="spacingAndGlyphs">0</text>
<text x="220.5" y="287.4" textLength="15.9" lengthAdjust="spacingAndGlyphs">(f)</text>
<text x="243.6" y="287.4" font-style="italic" font-size="13.4" textLength="8.8" lengthAdjust="spacingAndGlyphs">σ</text>
<text x="253.2" y="289.1" font-style="italic" font-size="9" textLength="6.2" lengthAdjust="spacingAndGlyphs" style="stroke-width:0.22px">p</text>
<text x="264.3" y="289.7" font-size="14.5" textLength="11.6" lengthAdjust="spacingAndGlyphs">=</text>
<text x="280.4" y="287.4" textLength="7.2" lengthAdjust="spacingAndGlyphs">5</text>
<text x="390.5" y="287.4" textLength="17" lengthAdjust="spacingAndGlyphs">(g)</text>
<text x="415.3" y="287.4" font-style="italic" font-size="13.4" textLength="8.8" lengthAdjust="spacingAndGlyphs">σ</text>
<text x="424.9" y="289.1" font-style="italic" font-size="9" textLength="6.2" lengthAdjust="spacingAndGlyphs" style="stroke-width:0.22px">p</text>
<text x="436.2" y="289.7" font-size="14.5" textLength="11.6" lengthAdjust="spacingAndGlyphs">=</text>
<text x="453" y="287.4" textLength="13.8" lengthAdjust="spacingAndGlyphs">10</text>
<text x="564.5" y="287.4" textLength="18.7" lengthAdjust="spacingAndGlyphs">(h)</text>
<text x="590.5" y="287.4" font-style="italic" font-size="13.4" textLength="8.8" lengthAdjust="spacingAndGlyphs">σ</text>
<text x="600.1" y="289.1" font-style="italic" font-size="9" textLength="6.2" lengthAdjust="spacingAndGlyphs" style="stroke-width:0.22px">p</text>
<text x="611.5" y="289.7" font-size="14.5" textLength="11.6" lengthAdjust="spacingAndGlyphs">=</text>
<text x="628.2" y="287.4" textLength="13.8" lengthAdjust="spacingAndGlyphs">15</text>
</g>
</svg>
</body>
</html>
